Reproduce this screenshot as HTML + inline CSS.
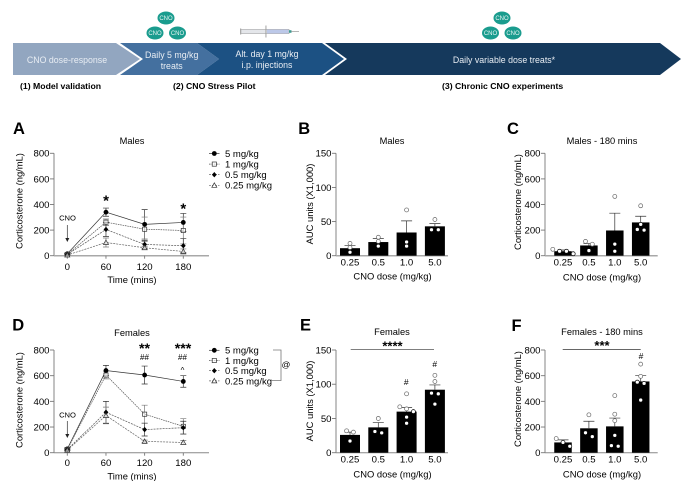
<!DOCTYPE html>
<html lang="en">
<head>
<meta charset="utf-8">
<title>CNO corticosterone figure</title>
<style>
html,body{margin:0;padding:0;background:#fff;}
body{width:685px;height:481px;overflow:hidden;}
svg{display:block;font-family:"Liberation Sans",Arial,sans-serif;filter:blur(0.3px);}
text{fill:#000;}
</style>
</head>
<body>
<svg id="figure" width="685" height="481" viewBox="0 0 685 481" xmlns="http://www.w3.org/2000/svg">
  <g>
    <polygon points="13,43 116,43 140,59 116,75 13,75" fill="#92a6c0"/>
    <polygon points="120,43 197,43 219,59 197,75 120,75 143,59" fill="#44709f"/>
    <polygon points="197,43 322,43 344,59 322,75 197,75 219,59" fill="#1c5183"/>
    <polygon points="325,43 660,43 681,59 660,75 325,75 347,59" fill="#15395c"/>
    <text x="67" y="63" font-size="8.8" text-anchor="middle" style="fill:#e8edf3">CNO dose-response</text>
    <text text-anchor="middle" font-size="8.8" style="fill:#e8edf3"><tspan x="171.7" y="58">Daily 5 mg/kg</tspan><tspan x="171.7" y="69">treats</tspan></text>
    <text text-anchor="middle" font-size="8.8" style="fill:#e8edf3"><tspan x="267" y="57.2">Alt. day 1 mg/kg</tspan><tspan x="267" y="68">i.p. injections</tspan></text>
    <text x="504" y="63" font-size="8.8" text-anchor="middle" style="fill:#e8edf3">Daily variable dose treats*</text>
    <text x="20" y="89" font-size="8.7" font-weight="bold">(1) Model validation</text>
    <text x="173" y="89" font-size="8.7" font-weight="bold">(2) CNO Stress Pilot</text>
    <text x="442" y="89" font-size="8.7" font-weight="bold">(3) Chronic CNO experiments</text>
  </g>
  <g>
    <ellipse cx="166" cy="18" rx="8.5" ry="6.5" fill="#1a9c8e"/>
    <ellipse cx="155" cy="33" rx="8.5" ry="6.5" fill="#1a9c8e"/>
    <ellipse cx="177.5" cy="33" rx="8.5" ry="6.5" fill="#1a9c8e"/>
    <text x="166" y="20.2" font-size="6" text-anchor="middle" style="fill:#e8f5f3">CNO</text>
    <text x="155" y="35.2" font-size="6" text-anchor="middle" style="fill:#e8f5f3">CNO</text>
    <text x="177.5" y="35.2" font-size="6" text-anchor="middle" style="fill:#e8f5f3">CNO</text>
  </g>
  <g>
    <ellipse cx="502" cy="18" rx="8.5" ry="6.5" fill="#1a9c8e"/>
    <ellipse cx="490.5" cy="33" rx="8.5" ry="6.5" fill="#1a9c8e"/>
    <ellipse cx="513" cy="33" rx="8.5" ry="6.5" fill="#1a9c8e"/>
    <text x="502" y="20.2" font-size="6" text-anchor="middle" style="fill:#e8f5f3">CNO</text>
    <text x="490.5" y="35.2" font-size="6" text-anchor="middle" style="fill:#e8f5f3">CNO</text>
    <text x="513" y="35.2" font-size="6" text-anchor="middle" style="fill:#e8f5f3">CNO</text>
  </g>
  <g>
    <rect x="240" y="28.5" width="1.2" height="6" fill="#aaa"/>
    <rect x="241" y="29.3" width="48" height="4.4" fill="#e4e6ea" stroke="#aaa" stroke-width="0.6"/>
    <rect x="267" y="29.6" width="21.5" height="3.8" fill="#bcc8e8"/>
    <rect x="265.5" y="25.5" width="0.9" height="12" fill="#999"/>
    <rect x="289" y="30.2" width="2.5" height="2.6" fill="#3f9c93"/>
    <rect x="291" y="31.2" width="8" height="0.6" fill="#888"/>
  </g>
  <text x="13" y="134" font-size="16.5" font-weight="bold">A</text>
  <text x="298.2" y="134" font-size="16.5" font-weight="bold">B</text>
  <text x="507" y="134" font-size="16.5" font-weight="bold">C</text>
  <text x="12.2" y="330.5" font-size="16.5" font-weight="bold">D</text>
  <text x="300" y="330.5" font-size="16.5" font-weight="bold">E</text>
  <text x="511.5" y="331" font-size="16.5" font-weight="bold">F</text>

  <g id="panel-a"></g>
  <g id="panel-b"></g>
  <g id="panel-c"></g>
  <g id="panel-d"></g>
  <g id="panel-e"></g>
  <g id="panel-f"></g>

  <g>
    <text x="67.5" y="220.7" font-size="7.6" text-anchor="middle">CNO</text>
    <line x1="67.3" y1="225" x2="67.3" y2="238" stroke="#333" stroke-width="0.7"/>
    <polygon points="65.3,238 69.3,238 67.3,242" fill="#222"/>
    <text x="106" y="205.5" font-size="15" font-weight="bold" text-anchor="middle">*</text>
    <text x="183.3" y="213.5" font-size="15" font-weight="bold" text-anchor="middle">*</text>
  </g>
  <g>
    <text x="67.5" y="417.7" font-size="7.6" text-anchor="middle">CNO</text>
    <line x1="67.3" y1="421" x2="67.3" y2="434" stroke="#333" stroke-width="0.7"/>
    <polygon points="65.3,434 69.3,434 67.3,438" fill="#222"/>
    <text x="144.5" y="353" font-size="14.2" font-weight="bold" text-anchor="middle">**</text>
    <text x="183" y="353" font-size="14.2" font-weight="bold" text-anchor="middle">***</text>
    <text x="144.5" y="360" font-size="8" text-anchor="middle">##</text>
    <text x="182.5" y="360" font-size="8" text-anchor="middle">##</text>
    <text x="182.5" y="373" font-size="8" text-anchor="middle">^</text>
    <polyline points="273,350 281,350 281,380.5 271,380.5" fill="none" stroke="#777" stroke-width="0.8"/>
    <text x="286" y="367.5" font-size="8.6" text-anchor="middle">@</text>
  </g>
  <g>
    <line x1="350.7" y1="349.7" x2="434" y2="349.7" stroke="#333" stroke-width="0.7"/>
    <text x="392.5" y="350.5" font-size="13" font-weight="bold" text-anchor="middle">****</text>
    <text x="406.3" y="385" font-size="8.5" text-anchor="middle">#</text>
    <text x="434.7" y="367" font-size="8.5" text-anchor="middle">#</text>
  </g>
  <g>
    <line x1="562.7" y1="349.5" x2="640.7" y2="349.5" stroke="#333" stroke-width="0.7"/>
    <text x="602" y="350" font-size="13" font-weight="bold" text-anchor="middle">***</text>
    <text x="641" y="359" font-size="8.5" text-anchor="middle">#</text>
  </g>
</svg>
<script>
const timePoints = [0, 60, 120, 180];
const concTicks = [0, 200, 400, 600, 800];
const aucTicks = [0, 50, 100, 150];
const doseLabels = ['0.25', '0.5', '1.0', '5.0'];
const legendLabels = ['5 mg/kg', '1 mg/kg', '0.5 mg/kg', '0.25 mg/kg'];

const male5 = [15, 340, 245, 260];
const male5Err = [5, 32, 115, 70];
const male1 = [10, 262, 207, 197];
const male1Err = [5, 25, 95, 105];
const male05 = [10, 205, 88, 78];
const male05Err = [5, 55, 30, 55];
const male025 = [5, 103, 62, 33];
const male025Err = [3, 35, 12, 20];

const female5 = [30, 640, 605, 555];
const female5Err = [8, 40, 70, 45];
const female1 = [25, 605, 300, 205];
const female1Err = [6, 30, 70, 60];
const female05 = [25, 315, 180, 195];
const female05Err = [6, 85, 50, 50];
const female025 = [20, 290, 88, 80];
const female025Err = [5, 65, 10, 15];

const maleAucMeans = [11, 20, 34, 43];
const maleAucErrs = [4, 5, 17, 4];
const maleAucPoints = [[18, 12, 5], [27, 21, 14], [67, 20, 14], [53, 38, 38]];

const male180Means = [35, 80, 197, 260];
const male180Errs = [10, 15, 135, 48];
const male180Points = [[50, 35, 35, 15], [112, 90, 40], [463, 90, 35], [390, 245, 205, 200]];

const femaleAucMeans = [26, 37, 60, 92];
const femaleAucErrs = [4, 7, 6, 7];
const femaleAucPoints = [[32, 30, 17], [50, 31, 29], [86, 67, 64, 60, 52, 43], [113, 104, 87, 86, 71]];

const female180Means = [80, 190, 205, 555];
const female180Errs = [20, 55, 65, 45];
const female180Points = [[110, 80, 50], [295, 155, 125], [445, 300, 250, 135, 55, 50], [690, 595, 550, 540, 410]];

const NS = 'http://www.w3.org/2000/svg';
function add(parent, tag, attrs) {
  const node = document.createElementNS(NS, tag);
  for (const k in attrs) node.setAttribute(k, attrs[k]);
  parent.appendChild(node);
  return node;
}
function addText(parent, str, attrs) {
  const node = add(parent, 'text', attrs);
  node.textContent = str;
  return node;
}
function linearY(y0, yTop, max) {
  return function (v) { return y0 - v * (y0 - yTop) / max; };
}

function drawAxes(g, cfg, y, xTickVals, xTickPos) {
  const yAxis = add(g, 'line', {x1: cfg.axisX, y1: cfg.yTop, x2: cfg.axisX, y2: cfg.y0, stroke: '#777', 'stroke-width': 0.9});
  
  
  const xAxis = add(g, 'line', {x1: cfg.axisX, y1: cfg.y0, x2: cfg.axisEnd, y2: cfg.y0, stroke: cfg.xAxisStroke, 'stroke-width': cfg.xAxisWidth});
  
  
  cfg.yTicks.forEach(function (v) {
    const tick = add(g, 'line', {x1: cfg.axisX - 4, y1: y(v), x2: cfg.axisX, y2: y(v), stroke: '#777', 'stroke-width': 0.9});
    
    
    const label = addText(g, String(v), {x: cfg.axisX - 4.5, y: y(v) + 3.4, 'font-size': 9.6, 'text-anchor': 'end'});
    
    
  });
  xTickVals.forEach(function (v, i) {
    const x = xTickPos(i);
    const tick = add(g, 'line', {x1: x, y1: cfg.y0, x2: x, y2: cfg.y0 + cfg.xTickLen, stroke: '#777', 'stroke-width': 0.9});
    
    
    const label = addText(g, String(v), {x: x, y: cfg.xLabelY, 'font-size': 9.6, 'text-anchor': 'middle'});
    
    
  });
  const xTitle = addText(g, cfg.xTitle, {x: cfg.xTitleX, y: cfg.xTitleY, 'font-size': 9.4, 'text-anchor': 'middle'});
  
  
  const yTitle = addText(g, cfg.yTitle, {x: 0, y: 0, 'font-size': 9.4, 'text-anchor': 'middle', transform: 'translate(' + cfg.yTitleX + ',' + cfg.yTitleY + ') rotate(-90)'});
  
  
  const title = addText(g, cfg.title, {x: cfg.titleX, y: cfg.titleY, 'font-size': 9.3, 'text-anchor': 'middle'});
  
  
}

function drawMarker(g, kind, x, y) {
  let m;
  if (kind === 0) {
    m = add(g, 'circle', {cx: x, cy: y, r: 2.4, fill: '#000'});
  } else if (kind === 1) {
    m = add(g, 'rect', {x: x - 2.1, y: y - 2.1, width: 4.2, height: 4.2, fill: '#fff', 'fill-opacity': 0.6, stroke: '#333', 'stroke-width': 0.7});
  } else if (kind === 2) {
    m = add(g, 'polygon', {points: [x, y - 2.7, x + 2.4, y, x, y + 2.7, x - 2.4, y].join(' '), fill: '#000'});
  } else {
    m = add(g, 'polygon', {points: [x, y - 2.5, x + 2.5, y + 2, x - 2.5, y + 2].join(' '), fill: '#fff', 'fill-opacity': 0.6, stroke: '#333', 'stroke-width': 0.7});
  }
  
  
}

function drawLineChart(id, cfg, series, errs) {
  const g = document.getElementById(id);
  const y = linearY(cfg.y0, cfg.yTop, 800);
  const x = function (t) { return 67.3 + t * 116 / 180; };
  drawAxes(g, cfg, y, timePoints, function (i) { return x(timePoints[i]); });
  const dashes = ['none', '1.6 0.8', '2 1', '2 1'];
  const colours = ['#333', '#555', '#555', '#666'];
  series.forEach(function (vals, s) {
    const path = add(g, 'polyline', {points: vals.map(function (v, i) { return x(timePoints[i]) + ',' + y(v); }).join(' '), fill: 'none', stroke: colours[s], 'stroke-width': 0.7, 'stroke-dasharray': dashes[s]});
    
    
    vals.forEach(function (v, i) {
      const px = x(timePoints[i]);
      const e = errs[s][i];
      const bar = add(g, 'path', {d: 'M' + (px - 3) + ' ' + y(v + e) + 'h6M' + px + ' ' + y(v + e) + 'V' + y(Math.max(v - e, 0)) + 'M' + (px - 3) + ' ' + y(Math.max(v - e, 0)) + 'h6', fill: 'none', stroke: s % 2 ? '#777' : '#333', 'stroke-width': 0.7});
      
      
    });
  });
  series.forEach(function (vals, s) {
    vals.forEach(function (v, i) { drawMarker(g, s, x(timePoints[i]), y(v)); });
  });
  legendLabels.forEach(function (label, s) {
    const ly = cfg.legendY + s * cfg.legendStep;
    const sw = add(g, 'line', {x1: 209, y1: ly, x2: 219.5, y2: ly, stroke: colours[s], 'stroke-width': 0.7, 'stroke-dasharray': dashes[s]});
    
    
    drawMarker(g, s, 214.3, ly);
    const t = addText(g, label, {x: 225, y: ly + 3.4, 'font-size': 9.5});
    
    
  });
}

function drawBarChart(id, cfg, means, errs, points) {
  const g = document.getElementById(id);
  const y = linearY(cfg.y0, cfg.yTop, cfg.max);
  const x = function (i) { return cfg.firstBar + i * cfg.barStep; };
  drawAxes(g, cfg, y, doseLabels, x);
  means.forEach(function (m, i) {
    const top = y(m + errs[i]);
    const err = add(g, 'path', {d: 'M' + (x(i) - 5.5) + ' ' + top + 'h11M' + x(i) + ' ' + top + 'V' + y(m), fill: 'none', stroke: '#333', 'stroke-width': 0.7});
    
    
    const bar = add(g, 'rect', {x: x(i) - cfg.barW / 2, y: y(m), width: cfg.barW, height: cfg.y0 - y(m), fill: '#000'});
    
    
    const sorted = points[i].slice().sort(function (a, b) { return b - a; });
    let k = 0;
    while (k < sorted.length) {
      let n = 1;
      while (k + n < sorted.length && y(sorted[k + n]) - y(sorted[k + n - 1]) < 4) n++;
      for (let j = 0; j < n; j++) {
        const dot = add(g, 'circle', {cx: x(i) + (j - (n - 1) / 2) * 6.8, cy: y(sorted[k + j]), r: 2, fill: '#fff', stroke: sorted[k + j] > m ? '#666' : '#000', 'stroke-width': 0.7});
        
        
      }
      k += n;
    }
  });
}

const upper = {yTop: 153.3, y0: 255.7, xAxisStroke: '#a8a8a8', xAxisWidth: 1.5};
const lower = {yTop: 350, y0: 452.7, xAxisStroke: '#888', xAxisWidth: 1};

drawLineChart('panel-a', Object.assign({axisX: 54, axisEnd: 209, yTicks: concTicks, xTickLen: 3, xLabelY: 270, xTitle: 'Time (mins)', xTitleX: 132, xTitleY: 283, yTitle: 'Corticosterone (ng/mL)', yTitleX: 22.5, yTitleY: 201, title: 'Males', titleX: 132, titleY: 144, legendY: 153.5, legendStep: 10.6}, upper),
  [male5, male1, male05, male025], [male5Err, male1Err, male05Err, male025Err]);
drawLineChart('panel-d', Object.assign({axisX: 54, axisEnd: 209, yTicks: concTicks, xTickLen: 3, xLabelY: 466, xTitle: 'Time (mins)', xTitleX: 132, xTitleY: 479.5, yTitle: 'Corticosterone (ng/mL)', yTitleX: 22.5, yTitleY: 400, title: 'Females', titleX: 132, titleY: 336, legendY: 350.3, legendStep: 10.2}, lower),
  [female5, female1, female05, female025], [female5Err, female1Err, female05Err, female025Err]);

const aucBase = {axisX: 336, axisEnd: 448, yTicks: aucTicks, max: 150, xTickLen: 0, xTitle: 'CNO dose (mg/kg)', xTitleX: 392.5, yTitle: 'AUC units (X1,000)', yTitleX: 313, firstBar: 350, barStep: 28.3, barW: 20};
const concBase = {axisX: 545, axisEnd: 657.7, yTicks: concTicks, max: 800, xTickLen: 0, xTitle: 'CNO dose (mg/kg)', xTitleX: 602, yTitle: 'Corticosterone (ng/mL)', yTitleX: 521, firstBar: 563, barStep: 25.9, barW: 17.5};

drawBarChart('panel-b', Object.assign({}, aucBase, upper, {xLabelY: 265.5, xTitleY: 279.5, yTitleY: 204, title: 'Males', titleX: 392, titleY: 144}), maleAucMeans, maleAucErrs, maleAucPoints);
drawBarChart('panel-c', Object.assign({}, concBase, upper, {xLabelY: 265.5, xTitleY: 280.5, yTitleY: 202, title: 'Males - 180 mins', titleX: 602, titleY: 144}), male180Means, male180Errs, male180Points);
drawBarChart('panel-e', Object.assign({}, aucBase, lower, {xLabelY: 462.5, xTitleY: 477.5, yTitleY: 401, title: 'Females', titleX: 392, titleY: 335}), femaleAucMeans, femaleAucErrs, femaleAucPoints);
drawBarChart('panel-f', Object.assign({}, concBase, lower, {xLabelY: 462.5, xTitleY: 477.5, yTitleY: 399, title: 'Females - 180 mins', titleX: 602, titleY: 335}), female180Means, female180Errs, female180Points);
</script>
</body>
</html>
